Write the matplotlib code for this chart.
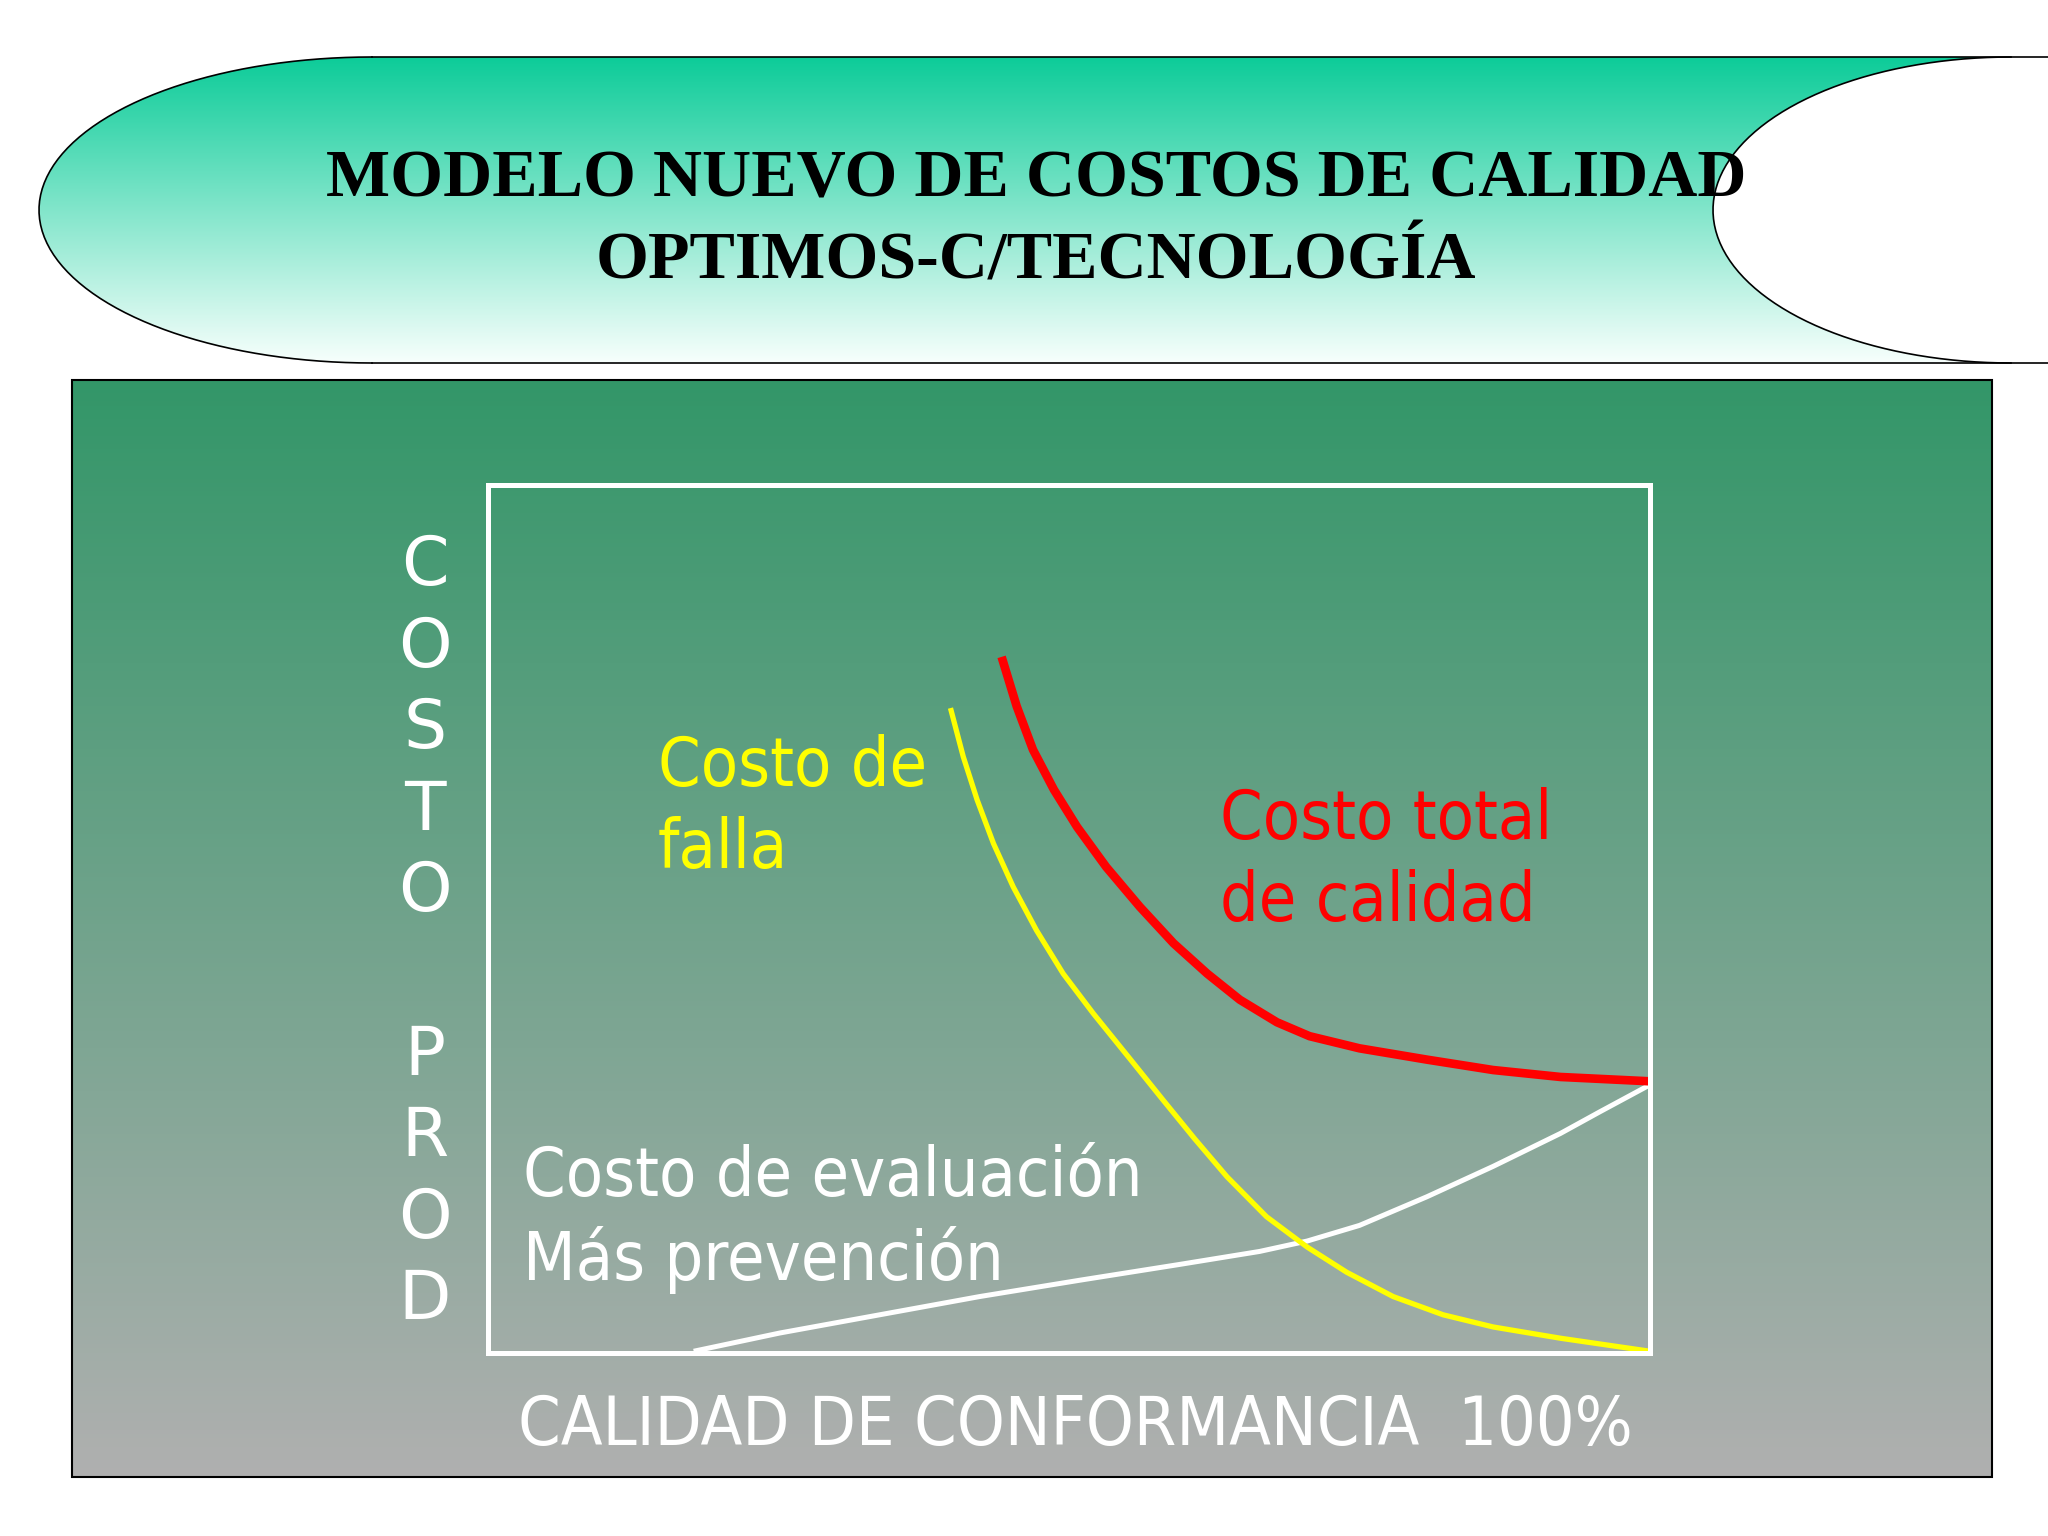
import numpy as np
import matplotlib.pyplot as plt
from matplotlib.path import Path
from matplotlib.patches import PathPatch, Rectangle
from matplotlib.colors import LinearSegmentedColormap

# curve data (x: calidad de conformancia %, y: costo)
x_total = [44.2, 45.5, 46.9, 48.7, 50.7, 53.2, 56.1, 59.0, 61.9, 64.7, 67.9,
           70.7, 75.0, 80.8, 86.5, 92.3, 100.0]
y_total = [80.2, 74.5, 69.5, 64.9, 60.6, 56.0, 51.4, 47.2, 43.7, 40.7, 38.1,
           36.5, 35.1, 33.8, 32.6, 31.8, 31.3]

x_falla = [39.8, 40.9, 42.1, 43.5, 45.2, 47.2, 49.5, 52.1, 55.3, 58.0, 60.8,
           63.6, 67.0, 70.5, 73.9, 77.9, 82.2, 86.5, 92.3, 100.0]
y_falla = [74.3, 68.7, 63.7, 58.7, 53.7, 48.7, 43.7, 39.1, 33.8, 29.3, 24.7,
           20.3, 15.7, 12.2, 9.3, 6.5, 4.4, 3.0, 1.7, 0.2]

x_eval = [17.7, 25.1, 33.7, 42.3, 51.0, 59.5, 66.4, 70.5, 75.0, 80.8, 86.5,
          92.3, 95.7, 100.0]
y_eval = [0.2, 2.3, 4.4, 6.5, 8.4, 10.2, 11.7, 12.9, 14.7, 18.0, 21.5,
          25.3, 27.8, 30.9]

title_lines = ["MODELO NUEVO DE COSTOS DE CALIDAD", "OPTIMOS-C/TECNOLOGÍA"]
y_letters = list("COSTO") + [""] + list("PROD")

W, H = 2048, 1536
fig = plt.figure(figsize=(W / 100, H / 100), dpi=100)
bg = fig.add_axes([0, 0, 1, 1])
bg.set_xlim(0, W)
bg.set_ylim(H, 0)
bg.axis('off')


def grad(ax, c_top, c_bot, extent, clip):
    cmap = LinearSegmentedColormap.from_list('g', [c_top, c_bot])
    g = np.linspace(0, 1, 256).reshape(-1, 1)
    im = ax.imshow(g, cmap=cmap, aspect='auto', extent=extent, zorder=1)
    im.set_clip_path(clip)
    return im


# banner (stored-data shape)
top, bot, mid = 57, 363, 210
ry = (bot - top) / 2
t = np.linspace(np.pi / 2, 3 * np.pi / 2, 80)
left_x = 372 + 333 * np.cos(t)
left_y = mid - ry * np.sin(t)
t2 = np.linspace(3 * np.pi / 2, np.pi / 2, 80)
right_x = 2011 + 298 * np.cos(t2)
right_y = mid - ry * np.sin(t2)
verts = list(zip(left_x, left_y)) + list(zip(right_x, right_y))
verts.append(verts[0])
banner = PathPatch(Path(verts, closed=True), facecolor='none', edgecolor='none')
bg.add_patch(banner)
grad(bg, (0.05, 0.80, 0.60), (0.97, 1.0, 0.99), (0, W, bot, top), banner)
bg.plot(left_x, left_y, color='black', lw=1.2, zorder=3)
bg.plot(right_x, right_y, color='black', lw=1.2, zorder=3)
bg.plot([372, W], [top, top], color='black', lw=1.2, zorder=3)
bg.plot([372, W], [bot, bot], color='black', lw=1.2, zorder=3)

for i, line in enumerate(title_lines):
    bg.text(1036, 180 + i * 82, line, ha='center', va='center', fontsize=49,
            fontweight='bold', family='Liberation Serif', color='black', zorder=4)

# main panel
panel = Rectangle((72, 380), 1920, 1097, facecolor='none', edgecolor='none')
bg.add_patch(panel)
grad(bg, (0.20, 0.59, 0.41), (0.69, 0.69, 0.69), (72, 1992, 1477, 380), panel)
bg.add_patch(Rectangle((72, 380), 1920, 1097, facecolor='none',
                       edgecolor='black', lw=1.5, zorder=3))

# vertical axis letters
for i, ch in enumerate(y_letters):
    bg.text(425, 566 + i * 81.6, ch, ha='center', va='center', fontsize=49,
            color='white', family='DejaVu Sans', zorder=4)

bg.text(1075, 1426, "CALIDAD DE CONFORMANCIA  100%", ha='center', va='center',
        fontsize=49, fontstretch='condensed', color='white',
        family='DejaVu Sans', zorder=4)

# chart box
ax = fig.add_axes([488 / W, 1 - 1353 / H, (1650 - 488) / W, (1353 - 485) / H])
ax.set_xlim(0, 100)
ax.set_ylim(0, 100)
ax.patch.set_alpha(0)
ax.set_xticks([])
ax.set_yticks([])
for s in ax.spines.values():
    s.set_color('white')
    s.set_linewidth(3.6)

ax.plot(x_eval, y_eval, color='white', lw=3.6, solid_capstyle='butt',
        solid_joinstyle='round')
ax.plot(x_falla, y_falla, color='#FFFF00', lw=3.8, solid_capstyle='butt',
        solid_joinstyle='round')
ax.plot(x_total, y_total, color='#FF0000', lw=6.2, solid_capstyle='butt',
        solid_joinstyle='round')

lab = dict(fontsize=49, fontstretch='condensed', family='DejaVu Sans',
           va='center', ha='left', linespacing=1.3)
ax.text(14.6, 62.8, "Costo de\nfalla", color='#FFFF00', **lab)
ax.text(63.0, 56.7, "Costo total\nde calidad", color='#FF0000', **lab)
ax.text(3, 15.4, "Costo de evaluación\nMás prevención", color='white', **lab)

plt.savefig('out.png', dpi=100)
